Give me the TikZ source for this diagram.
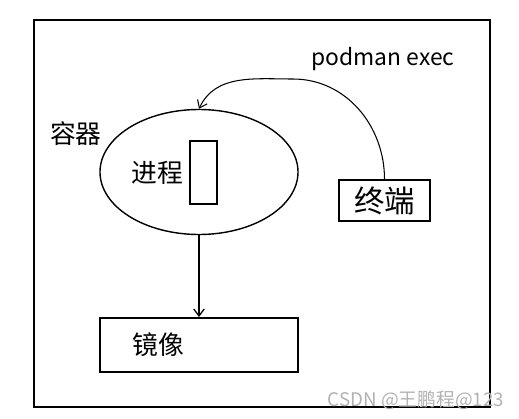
\documentclass[tikz,border=0pt]{standalone}
\usepackage{fontspec}
\setmainfont{Noto Sans CJK SC}
\usetikzlibrary{arrows.meta,shapes.geometric,positioning}

\begin{document}
\begin{tikzpicture}[x=0.03cm,y=-0.03cm,>={Straight Barb[length=6pt,width=9pt]}]
  \tikzstyle{box}=[draw=black,line width=1.4pt,inner sep=0pt]
  \tikzstyle{lbl}=[font=\fontsize{22}{24}\selectfont,inner sep=0pt]

  \useasboundingbox (0,0) rectangle (519,419);
  \draw[line width=2pt] (34,20) rectangle (490,407);

  \node[ellipse,draw,line width=1.2pt,minimum width=5.94cm,minimum height=3.75cm,inner sep=0pt] (cont) at (199,172) {};
  \node[lbl] (contlbl) at (76,134) {容器};
  \node[box,line width=1.3pt,minimum width=0.81cm,minimum height=1.89cm] (proc) at (203.5,172.5) {};
  \node[lbl] (proclbl) [left=0.17cm of proc] {进程};
  \node[box,lbl,font=\fontsize{26}{28}\selectfont,line width=1.6pt,minimum width=2.73cm,minimum height=1.23cm] (term) at (384.5,200.5) {终端};
  \node[box,line width=1.6pt,minimum width=5.94cm,minimum height=1.62cm] (img) at (199,345) {};
  \node[lbl,anchor=west] (imglbl) at (132,345) {镜像};
  \coordinate (top) at (293,79);
  \node[font=\fontsize{19.5}{21}\selectfont,inner sep=0pt] (cmd) at (383,59) {podman exec};

  \draw[->,line width=0.9pt] (term.north) to[out=90,in=0] (top) to[out=180,in=65] (cont.north);
  \draw[->,line width=1.1pt] (cont.south) -- (img.north);

  \node[font=\fontsize{16}{18}\selectfont,text=black!30,inner sep=0pt] (mark) at (416,400) {CSDN @王鹏程@123};
\end{tikzpicture}
\end{document}
